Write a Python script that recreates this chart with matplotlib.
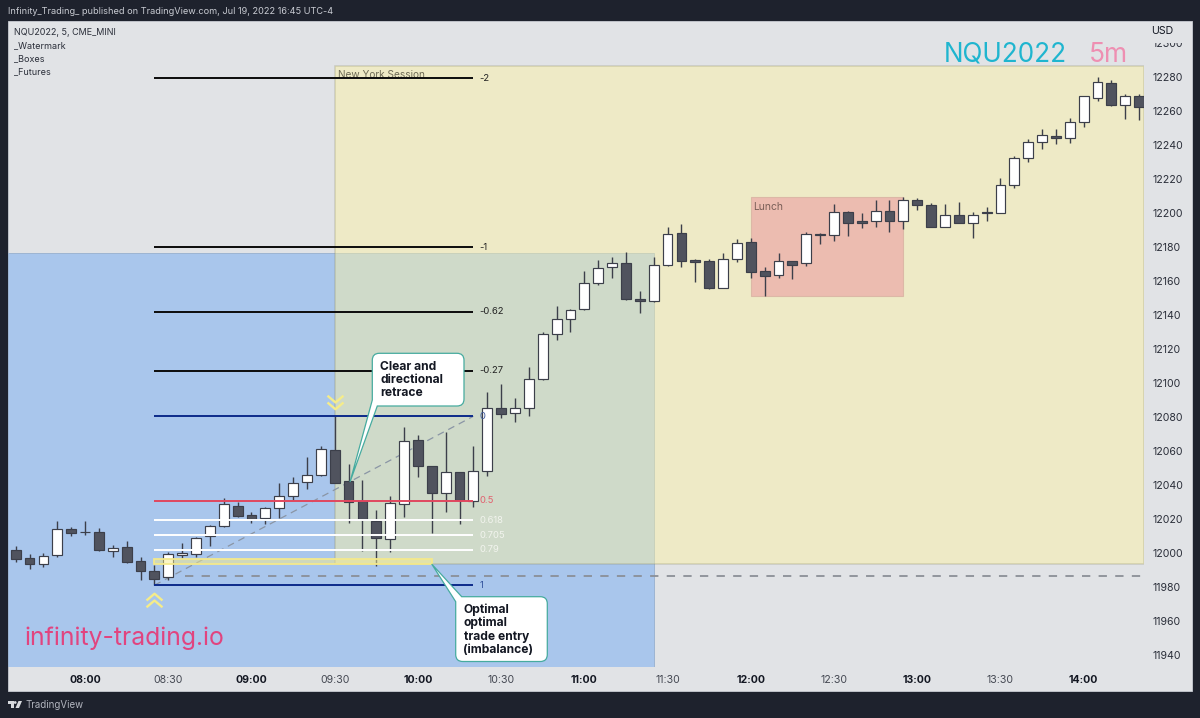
"""NQU2022 5m candles with fib levels and session boxes, TradingView look."""

import matplotlib
matplotlib.use("Agg")
import matplotlib.pyplot as plt
from matplotlib.patches import PathPatch, Polygon, Rectangle, Circle
from matplotlib.path import Path
from matplotlib.transforms import Affine2D

plt.rcParams["font.family"] = ["Inter", "DejaVu Sans"]

# bars start at 07:35, one per 5 minutes
bar_open = [12002.1, 11997.2, 11994.0, 11999.0, 12014.2, 12012.6, 12012.5, 12001.5, 12003.9, 11995.4,
            11989.6, 11986.4, 11998.8, 11999.8, 12010.3, 12016.2, 12028.0, 12022.5, 12020.7, 12026.6,
            12033.5, 12041.9, 12046.0, 12060.9, 12042.9, 12030.7, 12018.8, 12008.4, 12029.0, 12066.8,
            12051.5, 12035.6, 12047.8, 12030.9, 12048.4, 12085.4, 12082.7, 12085.8, 12102.5, 12128.8,
            12137.8, 12143.5, 12158.9, 12168.4, 12170.7, 12149.9, 12148.4, 12169.5, 12188.3, 12172.7,
            12171.9, 12156.4, 12173.4, 12183.0, 12166.0, 12164.0, 12171.9, 12170.7, 12188.1, 12187.4,
            12200.7, 12195.8, 12195.4, 12201.3, 12195.8, 12207.8, 12204.7, 12192.2, 12199.0, 12194.5,
            12200.6, 12200.4, 12216.9, 12232.5, 12241.9, 12245.7, 12244.1, 12253.9, 12268.2, 12277.0,
            12263.9, 12268.8]
bar_high = [12004.1, 11999.6, 12000.1, 12018.8, 12015.6, 12018.8, 12014.8, 12005.2, 12007.6, 11998.2,
            11993.3, 12001.1, 12006.0, 12009.6, 12016.8, 12032.5, 12030.5, 12024.6, 12027.6, 12041.3,
            12044.8, 12057.0, 12063.3, 12080.6, 12052.7, 12043.3, 12025.6, 12033.9, 12074.6, 12069.7,
            12051.6, 12071.7, 12047.9, 12063.3, 12095.2, 12099.7, 12091.3, 12109.5, 12130.0, 12145.8,
            12144.0, 12166.2, 12172.5, 12174.2, 12177.4, 12154.6, 12174.2, 12191.9, 12193.8, 12173.0,
            12173.0, 12177.0, 12184.8, 12185.4, 12168.3, 12176.6, 12172.0, 12189.3, 12188.3, 12205.6,
            12201.7, 12200.1, 12207.9, 12207.9, 12209.5, 12208.8, 12205.9, 12205.5, 12206.9, 12201.0,
            12203.9, 12220.6, 12233.9, 12243.7, 12249.4, 12249.8, 12256.4, 12269.0, 12280.4, 12278.4,
            12270.2, 12270.2]
bar_low = [11995.2, 11990.7, 11991.9, 11998.2, 12010.0, 12010.9, 12001.7, 11997.8, 11994.3, 11984.5,
           11981.5, 11984.5, 11997.2, 11998.2, 12004.1, 12015.4, 12021.7, 12018.2, 12017.4, 12020.7,
           12031.5, 12037.8, 12045.8, 12041.3, 12018.2, 12001.2, 11992.7, 12000.6, 12021.7, 12044.7,
           12012.3, 12024.5, 12017.4, 12027.6, 12045.6, 12079.9, 12077.2, 12080.9, 12101.9, 12125.6,
           12130.5, 12143.0, 12158.0, 12162.3, 12149.3, 12141.3, 12148.2, 12169.3, 12168.7, 12159.5,
           12155.8, 12156.0, 12171.7, 12161.9, 12151.5, 12162.3, 12161.3, 12169.3, 12182.1, 12184.0,
           12186.8, 12191.7, 12192.3, 12189.3, 12190.7, 12202.0, 12191.8, 12191.8, 12194.1, 12185.3,
           12195.7, 12200.0, 12214.7, 12230.0, 12238.2, 12240.8, 12241.7, 12251.0, 12266.0, 12263.3,
           12255.3, 12254.9]
bar_close = [11997.0, 11994.0, 11998.6, 12014.2, 12012.3, 12012.4, 12001.9, 12003.0, 11995.2, 11989.4,
             11985.0, 11999.5, 12000.0, 12009.3, 12016.4, 12029.0, 12022.3, 12020.5, 12026.6, 12033.9,
             12041.7, 12046.0, 12061.3, 12041.7, 12030.2, 12020.3, 12008.8, 12029.6, 12066.2, 12051.3,
             12035.6, 12047.8, 12031.3, 12048.4, 12085.4, 12082.3, 12085.4, 12102.5, 12129.0, 12137.8,
             12143.3, 12158.9, 12168.1, 12170.7, 12149.5, 12148.4, 12169.5, 12188.0, 12172.3, 12171.3,
             12156.4, 12173.4, 12182.5, 12165.8, 12163.4, 12171.9, 12169.9, 12188.1, 12187.6, 12200.7,
             12194.6, 12194.4, 12201.7, 12195.8, 12208.0, 12204.7, 12192.2, 12199.0, 12194.5, 12199.0,
             12200.0, 12217.0, 12232.7, 12242.1, 12246.1, 12244.1, 12253.5, 12268.8, 12277.4, 12263.9,
             12268.8, 12262.5]

time_bars = [5, 11, 17, 23, 29, 35, 41, 47, 53, 59, 65, 71, 77]
time_labels = ["08:00", "08:30", "09:00", "09:30", "10:00", "10:30", "11:00",
               "11:30", "12:00", "12:30", "13:00", "13:30", "14:00"]
price_ticks = list(range(11940, 12301, 20))

fib_labels = ["-2", "-1", "-0.62", "-0.27", "0", "0.5", "0.618", "0.705", "0.79", "1"]
fib_prices = [12279.5, 12180.1, 12142.3, 12107.5, 12080.7, 12031.0, 12019.4, 12010.6, 12002.2, 11981.3]
fib_colors = ["#0b0b0b", "#0b0b0b", "#0b0b0b", "#0b0b0b", "#0c2a8a",
              "#e0475f", "white", "white", "white", "#0c2a8a"]
fib_text_colors = ["#222222", "#222222", "#222222", "#222222", "#3f5a9c",
                   "#e2606e", "#f2f4ee", "#f2f4ee", "#f2f4ee", "#2f4f9a"]

DARK = "#1e222d"
PANEL = "#e1e3e6"
UP_FILL = "white"
DOWN_FILL = "#50535e"
EDGE = "#3c3f4a"

fig = plt.figure(figsize=(12, 7.18), dpi=100, facecolor=DARK)
# screen pixels, y down, for the chrome around the chart
px = Affine2D().scale(1, -1).translate(0, 718)

fig.add_artist(Rectangle((8, 21), 1184, 670, transform=px, fc=PANEL, ec="#c9ccd2", lw=0.6, zorder=-1))

# axes rect is 8..1144 by 21..667 px
ax = fig.add_axes([8 / 1200, 1 - 667 / 718, 1136 / 1200, 646 / 718])
ax.patch.set_alpha(0)
ax.set_xlim(-0.555, 81.35)
ax.set_ylim(11933.2, 12313.2)
for spine in ax.spines.values():
    spine.set_visible(False)

x_left, x_right = ax.get_xlim()
y_bottom = ax.get_ylim()[0]

# session boxes
ax.add_patch(Rectangle((x_left, y_bottom), 46 - x_left, 12176.9 - y_bottom,
                       fc="#a9c6ec", ec="#9db5d2", lw=0.7, zorder=1))
ax.add_patch(Rectangle((23, 11993.5), x_right - 23, 12286.6 - 11993.5,
                       fc=(1.0, 0.957, 0.624, 0.45), ec=(0.55, 0.55, 0.40, 0.3), lw=1.1, zorder=2))
ax.add_patch(Rectangle((53, 12151.6), 11, 12209.5 - 12151.6,
                       fc="#ecbcb0", ec="#dcb8a6", lw=0.8, zorder=3))
ax.text(23.25, 12281.5, "New York Session", color="#6f6c57", fontsize=7.25, va="center", zorder=4)
ax.text(53.2, 12203.7, "Lunch", color="#7a5f58", fontsize=7.5, va="center", zorder=4)

# session open reference and the fib diagonal
ax.plot([12.2, x_right], [11986.6, 11986.6], color="#8b8f97", lw=1.3, dashes=(4.6, 4.6), zorder=4)
ax.plot([10, 33], [11981.3, 12080.7], color="#8a95a5", lw=0.9, dashes=(5.5, 4), zorder=4)

# candles
bars = range(len(bar_open))
ax.vlines(bars, bar_low, bar_high, color=EDGE, lw=1.0, zorder=5)
for i in bars:
    o, c = bar_open[i], bar_close[i]
    is_up = c > o
    ax.bar(i, max(abs(c - o), 0.5), bottom=min(o, c), width=0.71,
           color=UP_FILL if is_up else DOWN_FILL, edgecolor=EDGE, lw=0.85, zorder=6)

# fib levels
for label, price, color, text_color in zip(fib_labels, fib_prices, fib_colors, fib_text_colors):
    ax.plot([10, 33], [price, price], color=color, lw=1.4, solid_capstyle="butt", zorder=7)
    ax.text(33.45, price, label, color=text_color, fontsize=6.8, va="center", zorder=7)

# imbalance zone
ax.add_patch(Rectangle((10, 11993.8), 20, 3.1, fc=(0.96, 0.92, 0.55, 0.5), ec="#f4e98c", lw=1.3, zorder=7))

# chevrons
up_chevron = Path([(-1, 0), (0, 0.85), (1, 0), (-1, -0.85), (0, 0), (1, -0.85)],
                  [Path.MOVETO, Path.LINETO, Path.LINETO, Path.MOVETO, Path.LINETO, Path.LINETO])
down_chevron = Path(up_chevron.vertices * [1, -1], up_chevron.codes)
ax.plot([10], [11972.6], marker=up_chevron, ms=11.5, mfc="none", mec="#f5ec8a", mew=1.7, zorder=8)
ax.plot([23], [12089.0], marker=down_chevron, ms=11.5, mfc="none", mec="#f5ec8a", mew=1.7, zorder=8)

# axes labels
ax.yaxis.tick_right()
ax.set_yticks(price_ticks)
ax.set_yticklabels([str(p) for p in price_ticks], fontsize=7.6, color="#2a2e39")
ax.set_xticks(time_bars)
ax.set_xticklabels(time_labels, fontsize=7.6, color="#444852")
for label in ax.get_xticklabels():
    if label.get_text().endswith(":00"):
        label.set_fontweight("bold")
        label.set_color("#131722")
ax.tick_params(axis="both", length=0)
ax.tick_params(axis="y", pad=6.2)
ax.tick_params(axis="x", pad=5.6)


def round_poly(points):
    """Closed path through (x, y, radius) corners."""
    verts, codes = [], []
    n = len(points)
    for k, (x, y, r) in enumerate(points):
        if r == 0:
            verts.append((x, y))
            codes.append(Path.LINETO)
            continue
        px0, py0, _ = points[k - 1]
        px1, py1, _ = points[(k + 1) % n]
        d0 = ((px0 - x) ** 2 + (py0 - y) ** 2) ** 0.5
        d1 = ((px1 - x) ** 2 + (py1 - y) ** 2) ** 0.5
        verts += [(x + (px0 - x) * r / d0, y + (py0 - y) * r / d0), (x, y),
                  (x + (px1 - x) * r / d1, y + (py1 - y) * r / d1)]
        codes += [Path.LINETO, Path.CURVE3, Path.CURVE3]
    codes[0] = Path.MOVETO
    verts.append(verts[0])
    codes.append(Path.CLOSEPOLY)
    return Path(verts, codes)


# callouts
retrace_box = [(372.3, 353.3, 7), (464, 353.3, 7), (464, 406, 7), (377.3, 406, 0),
               (350, 482, 0), (372.3, 400, 0)]
entry_box = [(461.7, 596.7, 0), (547.3, 596.7, 7), (547.3, 661.5, 7), (455.7, 661.5, 7),
             (455.7, 601.7, 0), (431.7, 564, 0)]
for shape in (retrace_box, entry_box):
    fig.add_artist(PathPatch(round_poly(shape), transform=px, fc="white", ec="#46ab9f", lw=0.9, zorder=3))
fig.text(380.5, 380, "Clear and\ndirectional\nretrace", transform=px, fontsize=8.7, fontweight="bold",
         color="#131722", va="center", linespacing=1.15, zorder=4)
fig.text(463.5, 629.5, "Optimal\noptimal\ntrade entry\n(imbalance)", transform=px, fontsize=8.7,
         fontweight="bold", color="#131722", va="center", linespacing=1.12, zorder=4)

# watermarks
fig.text(25, 645, "infinity-trading.io", transform=px, fontsize=17.8, color="#e1447f", va="baseline", zorder=3)
fig.text(944, 61.7, "NQU2022", transform=px, fontsize=18.8, color="#1fb5cf", va="baseline", zorder=3)
fig.text(1088.5, 61.7, "5m", transform=px, fontsize=19, color="#ee8fb2", va="baseline", zorder=3)

# header over the clipped top price label
fig.add_artist(Rectangle((1144.5, 21.5), 47, 21.5, transform=px, fc=PANEL, ec="none", zorder=3))
fig.text(1151.5, 31, "USD", transform=px, fontsize=7.6, color="#131722", va="center", zorder=4)

fig.text(8, 12, "Infinity_Trading_ published on TradingView.com, Jul 19, 2022 16:45 UTC-4",
         transform=px, fontsize=6.6, color="#c9ccd3", va="center", zorder=4)
legend_lines = ["NQU2022, 5, CME_MINI", "_Watermark", "_Boxes", "_Futures"]
for line, y in zip(legend_lines, [32.5, 45.5, 58.5, 71.5]):
    fig.text(14, y, line, transform=px, fontsize=6.5, color="#2a2e39", va="center", zorder=4)

# footer logo
fig.add_artist(Polygon([(8, 701), (13.5, 701), (13.5, 708), (11, 708), (11, 704), (8, 704)],
                       transform=px, fc="#d8dade", ec="none", zorder=3))
fig.add_artist(Circle((15.2, 702.5), 1.4, transform=px, fc="#d8dade", ec="none", zorder=3))
fig.add_artist(Polygon([(18.5, 701), (22, 701), (19, 708), (15.5, 708)],
                       transform=px, fc="#d8dade", ec="none", zorder=3))
fig.text(25.5, 705, "TradingView", transform=px, fontsize=7.0, color="#b2b5be", va="center", zorder=3)

fig.savefig("out.png", dpi=100, facecolor=fig.get_facecolor())
plt.close(fig)
